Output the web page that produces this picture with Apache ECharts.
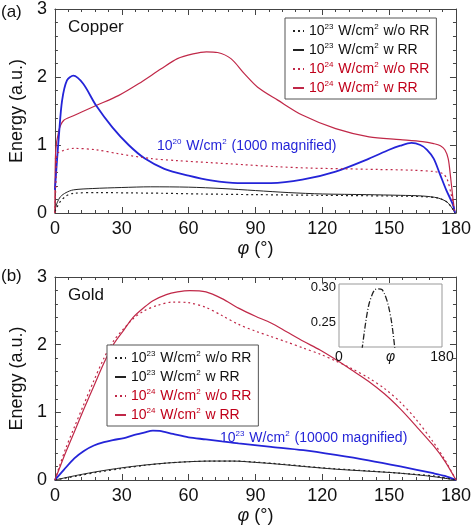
<!DOCTYPE html>
<html><head><meta charset="utf-8">
<script src="https://cdn.jsdelivr.net/npm/echarts@6/dist/echarts.min.js"></script>
<style>html,body{margin:0;padding:0;background:#fff}#c{width:474px;height:526px}</style>
</head><body><div id="c"></div>
<script>
// ---- Tick labels / categories ----
var xTicks = [0, 30, 60, 90, 120, 150, 180];
var yTicks = [0, 1, 2, 3];
var insetYTicks = [0.25, 0.30];
var insetXTicks = [0, 180];
var names = ['10^23 W/cm^2 w/o RR', '10^23 W/cm^2 w RR', '10^24 W/cm^2 w/o RR', '10^24 W/cm^2 w RR'];

// ---- (a) Copper ----
var cu23woPhi = [0, 1, 2.5, 5, 8.3, 20, 35, 49, 65, 90, 120, 150, 165, 172, 176, 178.5, 179.5];
var cu23woE   = [0.02, 0.09, 0.17, 0.25, 0.29, 0.3, 0.295, 0.29, 0.28, 0.27, 0.26, 0.25, 0.24, 0.22, 0.16, 0.06, 0];
var cu23wPhi  = [0, 1, 2.5, 5, 8.3, 17, 30, 43, 60, 75, 90, 105, 120, 140, 155, 165, 172, 176, 178.5, 179.5];
var cu23wE    = [0.04, 0.15, 0.24, 0.3, 0.34, 0.36, 0.375, 0.385, 0.38, 0.36, 0.33, 0.3, 0.28, 0.27, 0.26, 0.25, 0.22, 0.16, 0.06, 0];
var cu24woPhi = [0, 0.5, 1, 3, 8.3, 18.5, 28.7, 43.3, 55, 70, 85, 100, 115, 130, 145, 160, 170, 174, 176, 178, 179.5];
var cu24woE   = [0, 0.5, 0.87, 0.91, 0.95, 0.93, 0.87, 0.8, 0.77, 0.74, 0.71, 0.68, 0.66, 0.65, 0.64, 0.63, 0.61, 0.58, 0.5, 0.25, 0];
var cu24wPhi  = [0, 0.3, 1.75, 3.9, 8.3, 13, 18.5, 28.7, 37.5, 47.7, 55, 62, 68, 73, 79, 85, 91, 100, 111, 126, 141, 155, 165, 170, 173, 175, 176.5, 177.5, 178.5, 179.5];
var cu24wE    = [0, 0.88, 1.21, 1.36, 1.43, 1.5, 1.58, 1.73, 1.90, 2.12, 2.27, 2.34, 2.37, 2.36, 2.27, 2.05, 1.85, 1.66, 1.44, 1.24, 1.12, 1.08, 1.05, 1.02, 0.99, 0.93, 0.8, 0.55, 0.25, 0];
var cu20Phi   = [0, 1, 1.75, 3.2, 5.4, 8.3, 12.7, 18.5, 25.8, 33.1, 40.4, 49.1, 60, 70, 82, 97, 111, 126, 141, 150, 155, 160, 164, 167, 170, 172.7, 175.6, 178.4, 179.6];
var cu20E     = [0.34, 0.8, 1.12, 1.65, 1.95, 2.02, 1.90, 1.58, 1.26, 1.0, 0.80, 0.65, 0.55, 0.48, 0.44, 0.44, 0.49, 0.61, 0.80, 0.93, 0.99, 1.03, 1.0, 0.93, 0.8, 0.58, 0.34, 0.14, 0];

// ---- (b) Gold ----
var au23woPhi = [0, 10, 20, 30, 40, 50, 60, 70, 80, 90, 100, 111.5, 126, 140.7, 155, 169.8, 180];
var au23woE   = [0, 0.06, 0.12, 0.17, 0.215, 0.25, 0.27, 0.28, 0.28, 0.265, 0.24, 0.205, 0.165, 0.135, 0.1, 0.06, 0];
var au23wPhi  = [0, 10, 20, 30, 40, 50, 60, 70, 80, 90, 100, 111.5, 126, 140.7, 155, 169.8, 180];
var au23wE    = [0, 0.07, 0.13, 0.18, 0.22, 0.25, 0.27, 0.28, 0.28, 0.26, 0.235, 0.2, 0.16, 0.13, 0.1, 0.05, 0];
var au24woPhi = [0, 2, 5, 8.7, 13, 17.5, 22, 26.2, 31, 35, 40, 46, 53, 60, 67.8, 75, 82.4, 90, 97, 104, 111.5, 119, 126, 133, 140.7, 148, 155, 162, 169.8, 175, 180];
var au24woE   = [0, 0.2, 0.48, 0.78, 1.12, 1.47, 1.8, 2.05, 2.24, 2.38, 2.5, 2.58, 2.63, 2.62, 2.55, 2.43, 2.30, 2.2, 2.12, 2.04, 1.95, 1.86, 1.76, 1.65, 1.51, 1.35, 1.15, 0.9, 0.56, 0.3, 0];
var au24wPhi  = [0, 2, 5, 8.7, 13, 17.5, 22, 26.2, 31, 35, 40, 44, 50, 55, 60.5, 67.8, 75, 82.4, 90, 97, 104, 111.5, 119, 126, 133, 140.7, 148, 155, 162, 169.8, 175, 180];
var au24wE    = [0, 0.17, 0.42, 0.71, 1.05, 1.39, 1.73, 2.0, 2.22, 2.40, 2.55, 2.65, 2.74, 2.78, 2.80, 2.78, 2.68, 2.54, 2.42, 2.32, 2.19, 2.05, 1.92, 1.78, 1.63, 1.46, 1.27, 1.05, 0.80, 0.51, 0.28, 0];
var au23bPhi  = [0, 4, 8.7, 13, 17.5, 22, 26, 31, 35, 40, 44, 47, 53, 60, 67.8, 75, 82.4, 97, 111.5, 126, 140.7, 155, 169.8, 175, 180];
var au23bE    = [0, 0.15, 0.32, 0.43, 0.51, 0.56, 0.59, 0.62, 0.66, 0.7, 0.73, 0.725, 0.68, 0.63, 0.6, 0.57, 0.54, 0.49, 0.44, 0.37, 0.29, 0.2, 0.1, 0.06, 0];
var insetPhi  = [40, 46.6, 52, 58, 63, 69, 75, 80, 86, 92, 98];
var insetE    = [0.21, 0.25, 0.275, 0.29, 0.297, 0.298, 0.297, 0.29, 0.275, 0.25, 0.21];

function pairs(a, b) { return a.map(function (v, i) { return [v, b[i]]; }); }

var RED = '#c02848', BLUE = '#2424d8', BLACK = '#222';
var FONT = 'Liberation Sans';
var axisCol = '#444';

function mainX(grid, pos) {
  return {
    type: 'value', gridIndex: grid, position: pos, min: 0, max: 180, interval: 30,
    axisLine: { show: true, onZero: false, lineStyle: { color: axisCol, width: 1 } },
    axisTick: { show: true, inside: true, length: 6, lineStyle: { color: axisCol } },
    minorTick: { show: true, splitNumber: 5, length: 3, lineStyle: { color: axisCol } },
    axisLabel: pos === 'bottom' ? { show: true, fontSize: 18, color: '#111', fontFamily: FONT, margin: 7,
      customValues: xTicks } : { show: false },
    splitLine: { show: false }, minorSplitLine: { show: false },
    name: pos === 'bottom' ? '{i|φ} (°)' : '', nameLocation: 'middle', nameGap: 27,
    nameTextStyle: { fontSize: 18, color: '#111', fontFamily: FONT, rich: { i: { fontStyle: 'italic', fontSize: 18, fontFamily: FONT, color: '#111' } } }
  };
}
function mainY(grid, pos) {
  return {
    type: 'value', gridIndex: grid, position: pos, min: 0, max: 3, interval: 1,
    axisLine: { show: true, onZero: false, lineStyle: { color: axisCol, width: 1 } },
    axisTick: { show: true, inside: true, length: 6, lineStyle: { color: axisCol } },
    minorTick: { show: true, splitNumber: 5, length: 3, lineStyle: { color: axisCol } },
    axisLabel: pos === 'left' ? { show: true, fontSize: 18, color: '#111', fontFamily: FONT, margin: 8,
      customValues: yTicks } : { show: false },
    splitLine: { show: false }, minorSplitLine: { show: false },
    name: pos === 'left' ? 'Energy (a.u.)' : '', nameLocation: 'middle', nameGap: 24, nameRotate: 90,
    nameTextStyle: { fontSize: 18, color: '#111', fontFamily: FONT }
  };
}

function line(name, xi, yi, phi, e, color, dotted, width) {
  return {
    name: name, type: 'line', xAxisIndex: xi, yAxisIndex: yi, data: pairs(phi, e),
    symbol: 'none', smooth: 0.3, silent: true,
    lineStyle: { color: color, width: width || 1, type: dotted ? [2, 3] : 'solid' },
    itemStyle: { color: color }, z: dotted ? 3 : 2
  };
}

function legendFmt(n) { return n.replace(/\^(\d+)/g, '{s|$1}'); }
function legend(left, top) {
  return {
    left: left, top: top, orient: 'vertical', itemWidth: 11, itemHeight: 14, itemGap: 4,
    padding: [5, 7, 4, 7], borderColor: '#555', borderWidth: 1, backgroundColor: '#fff',
    selectedMode: false, formatter: legendFmt,
    itemStyle: { opacity: 0 },
    lineStyle: { width: 2 },
    textStyle: { fontSize: 14, fontFamily: FONT, color: '#111',
      rich: { s: { fontSize: 8, fontFamily: FONT, padding: [0, 1, 8, 0] } } },
    data: [
      { name: names[0], textStyle: { color: '#111' } },
      { name: names[1], textStyle: { color: '#111' } },
      { name: names[2], textStyle: { color: '#c0001a' } },
      { name: names[3], textStyle: { color: '#c0001a' } }
    ]
  };
}

var chart = echarts.init(document.getElementById('c'));
var supRich = { s: { fontSize: 8, fontFamily: FONT, fill: BLUE, padding: [0, 1, 8, 0] } };
chart.setOption({
  animation: false,
  backgroundColor: '#fff',
  textStyle: { fontFamily: FONT },
  grid: [
    { left: 45, top: 8, width: 411, height: 205 },
    { left: 45, top: 277, width: 411, height: 205 },
    { left: 339, top: 284, width: 103, height: 63, show: true, borderColor: '#999', borderWidth: 1, z: 10, backgroundColor: '#fff' }
  ],
  legend: [legend(285, 18), legend(107, 345)],
  xAxis: [mainX(0, 'bottom'), mainX(0, 'top'), mainX(1, 'bottom'), mainX(1, 'top'),
    { type: 'value', gridIndex: 2, min: 0, max: 180, axisLine: { show: false }, axisTick: { show: false },
      splitLine: { show: false }, z: 11,
      axisLabel: { fontSize: 14, color: '#111', fontFamily: FONT, margin: 3, customValues: insetXTicks },
      name: 'φ', nameLocation: 'middle', nameGap: 3, nameMoveOverlap: false,
      nameTextStyle: { fontSize: 14, fontStyle: 'italic', color: '#111', fontFamily: FONT, verticalAlign: 'top' } }],
  yAxis: [mainY(0, 'left'), mainY(0, 'right'), mainY(1, 'left'), mainY(1, 'right'),
    { type: 'value', gridIndex: 2, min: 0.215, max: 0.305, axisLine: { show: false }, axisTick: { show: false },
      splitLine: { show: false }, z: 11,
      axisLabel: { fontSize: 13, color: '#111', fontFamily: FONT, margin: 3, customValues: insetYTicks,
        formatter: function (v) { return v.toFixed(2); } } }],
  series: [
    line(names[0], 0, 0, cu23woPhi, cu23woE, BLACK, true, 1.2),
    line(names[1], 0, 0, cu23wPhi, cu23wE, BLACK, false, 1),
    line(names[2], 0, 0, cu24woPhi, cu24woE, RED, true, 1.2),
    line(names[3], 0, 0, cu24wPhi, cu24wE, RED, false, 1.2),
    line('Cu 10^20 (1000 magnified)', 0, 0, cu20Phi, cu20E, BLUE, false, 1.8),
    line(names[0], 2, 2, au23woPhi, au23woE, BLACK, true, 1.2),
    line(names[1], 2, 2, au23wPhi, au23wE, BLACK, false, 1),
    line(names[2], 2, 2, au24woPhi, au24woE, RED, true, 1.2),
    line(names[3], 2, 2, au24wPhi, au24wE, RED, false, 1.2),
    line('Au 10^23 (10000 magnified)', 2, 2, au23bPhi, au23bE, BLUE, false, 1.8),
    Object.assign(line('inset', 4, 4, insetPhi, insetE, BLACK, false, 1.3),
      { lineStyle: { color: BLACK, width: 1.3, type: [6, 2, 1, 2] }, z: 12 })
  ],
  graphic: [
    { type: 'text', x: 1, y: 12, style: { text: '(a)', fontSize: 17, fontFamily: FONT, fill: '#111', verticalAlign: 'middle' } },
    { type: 'text', x: 68, y: 27, style: { text: 'Copper', fontSize: 17, fontFamily: FONT, fill: '#111', verticalAlign: 'middle' } },
    { type: 'text', x: 1, y: 276, style: { text: '(b)', fontSize: 17, fontFamily: FONT, fill: '#111', verticalAlign: 'middle' } },
    { type: 'text', x: 68, y: 295, style: { text: 'Gold', fontSize: 17, fontFamily: FONT, fill: '#111', verticalAlign: 'middle' } },
    { type: 'text', x: 157, y: 146, style: { text: '10{s|20} W/cm{s|2} (1000 magnified)', fontSize: 14, fontFamily: FONT, fill: BLUE, verticalAlign: 'middle', rich: supRich } },
    { type: 'text', x: 220, y: 438, style: { text: '10{s|23} W/cm{s|2} (10000 magnified)', fontSize: 14, fontFamily: FONT, fill: BLUE, verticalAlign: 'middle', rich: supRich } }
  ]
});
</script></body></html>
